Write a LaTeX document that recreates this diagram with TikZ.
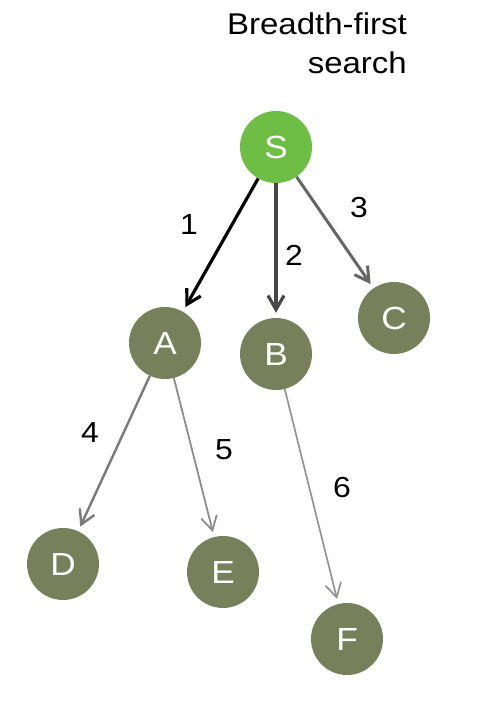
\documentclass[tikz,border=0pt]{standalone}
\usepackage{fontspec}
\setmainfont{Liberation Sans}[FakeStretch=1.1]
\usetikzlibrary{arrows.meta}
\definecolor{sgreen}{HTML}{6EBE45}
\definecolor{olive}{HTML}{78805B}
\begin{document}
\begin{tikzpicture}[x=1pt,y=1pt,
  vert/.style={circle,fill=olive,minimum size=72pt,inner sep=0pt,text=white,font=\fontsize{32}{32}\selectfont},
  elabel/.style={font=\fontsize{29}{29}\selectfont,text=black},
  tip/.style={-{Straight Barb[length=14pt,width=16pt,line width=#1]}},
  edge/.style={shorten >=5pt}
]
\useasboundingbox (0,0) rectangle (481,703);
\node[anchor=north east,align=right,font=\fontsize{30}{39}\selectfont,inner sep=0pt] (title) at (407,690) {Breadth-first\\search};
\node[vert,fill=sgreen] (S) at (276,556) {S};
\node[vert] (A) at (165,360) {A};
\node[vert] (B) at (276,349) {B};
\node[vert] (C) at (394,385) {C};
\node[vert] (D) at (63,139) {D};
\node[vert] (E) at (223,131) {E};
\node[vert] (F) at (347,64) {F};
\draw[edge,line width=3.2pt,black,tip=3.2pt] (S) -- (A);
\draw[edge,line width=3.2pt,color=black!72,tip=3.2pt] (S) -- (B);
\draw[edge,line width=3pt,color=black!60,tip=3pt] (S) -- (C);
\draw[edge,line width=2.4pt,color=black!52,tip=2.4pt] (A) -- (D);
\draw[edge,line width=1.8pt,color=black!45,tip=1.8pt] (A) -- (E);
\draw[edge,line width=1.7pt,color=black!42,tip=1.7pt] (B) -- (F);
\node[elabel] (l1) at (189,478) {1};
\node[elabel] (l2) at (294,448) {2};
\node[elabel] (l3) at (359,495) {3};
\node[elabel] (l4) at (90,270) {4};
\node[elabel] (l5) at (224,253) {5};
\node[elabel] (l6) at (342,215) {6};
\end{tikzpicture}
\end{document}
